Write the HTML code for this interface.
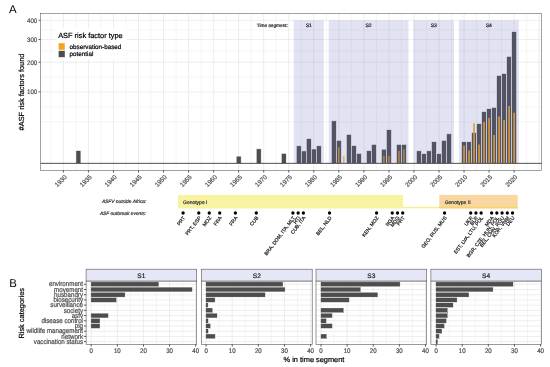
<!DOCTYPE html>
<html><head><meta charset="utf-8"><style>
html,body{margin:0;padding:0;background:#fff;width:550px;height:367px;overflow:hidden}
svg{display:block;will-change:transform}
text{text-rendering:geometricPrecision;font-family:'Liberation Sans', sans-serif}
</style></head><body>
<svg width="550" height="367" viewBox="0 0 550 367">
<rect x="0" y="0" width="550" height="367" fill="#fff"/>
<text x="9.0" y="12.95" font-size="11.4" fill="#000">A</text>
<rect x="40.5" y="13.4" width="501.1" height="156.9" fill="#fff"/>
<line x1="50.88" y1="13.4" x2="50.88" y2="170.3" stroke="#eaeaea" stroke-width="0.5"/>
<line x1="63.40" y1="13.4" x2="63.40" y2="170.3" stroke="#e5e5e5" stroke-width="0.7"/>
<line x1="75.92" y1="13.4" x2="75.92" y2="170.3" stroke="#eaeaea" stroke-width="0.5"/>
<line x1="88.44" y1="13.4" x2="88.44" y2="170.3" stroke="#e5e5e5" stroke-width="0.7"/>
<line x1="100.96" y1="13.4" x2="100.96" y2="170.3" stroke="#eaeaea" stroke-width="0.5"/>
<line x1="113.48" y1="13.4" x2="113.48" y2="170.3" stroke="#e5e5e5" stroke-width="0.7"/>
<line x1="126.00" y1="13.4" x2="126.00" y2="170.3" stroke="#eaeaea" stroke-width="0.5"/>
<line x1="138.52" y1="13.4" x2="138.52" y2="170.3" stroke="#e5e5e5" stroke-width="0.7"/>
<line x1="151.04" y1="13.4" x2="151.04" y2="170.3" stroke="#eaeaea" stroke-width="0.5"/>
<line x1="163.56" y1="13.4" x2="163.56" y2="170.3" stroke="#e5e5e5" stroke-width="0.7"/>
<line x1="176.08" y1="13.4" x2="176.08" y2="170.3" stroke="#eaeaea" stroke-width="0.5"/>
<line x1="188.60" y1="13.4" x2="188.60" y2="170.3" stroke="#e5e5e5" stroke-width="0.7"/>
<line x1="201.12" y1="13.4" x2="201.12" y2="170.3" stroke="#eaeaea" stroke-width="0.5"/>
<line x1="213.64" y1="13.4" x2="213.64" y2="170.3" stroke="#e5e5e5" stroke-width="0.7"/>
<line x1="226.16" y1="13.4" x2="226.16" y2="170.3" stroke="#eaeaea" stroke-width="0.5"/>
<line x1="238.68" y1="13.4" x2="238.68" y2="170.3" stroke="#e5e5e5" stroke-width="0.7"/>
<line x1="251.20" y1="13.4" x2="251.20" y2="170.3" stroke="#eaeaea" stroke-width="0.5"/>
<line x1="263.72" y1="13.4" x2="263.72" y2="170.3" stroke="#e5e5e5" stroke-width="0.7"/>
<line x1="276.24" y1="13.4" x2="276.24" y2="170.3" stroke="#eaeaea" stroke-width="0.5"/>
<line x1="288.76" y1="13.4" x2="288.76" y2="170.3" stroke="#e5e5e5" stroke-width="0.7"/>
<line x1="301.28" y1="13.4" x2="301.28" y2="170.3" stroke="#eaeaea" stroke-width="0.5"/>
<line x1="313.80" y1="13.4" x2="313.80" y2="170.3" stroke="#e5e5e5" stroke-width="0.7"/>
<line x1="326.32" y1="13.4" x2="326.32" y2="170.3" stroke="#eaeaea" stroke-width="0.5"/>
<line x1="338.84" y1="13.4" x2="338.84" y2="170.3" stroke="#e5e5e5" stroke-width="0.7"/>
<line x1="351.36" y1="13.4" x2="351.36" y2="170.3" stroke="#eaeaea" stroke-width="0.5"/>
<line x1="363.88" y1="13.4" x2="363.88" y2="170.3" stroke="#e5e5e5" stroke-width="0.7"/>
<line x1="376.40" y1="13.4" x2="376.40" y2="170.3" stroke="#eaeaea" stroke-width="0.5"/>
<line x1="388.92" y1="13.4" x2="388.92" y2="170.3" stroke="#e5e5e5" stroke-width="0.7"/>
<line x1="401.44" y1="13.4" x2="401.44" y2="170.3" stroke="#eaeaea" stroke-width="0.5"/>
<line x1="413.96" y1="13.4" x2="413.96" y2="170.3" stroke="#e5e5e5" stroke-width="0.7"/>
<line x1="426.48" y1="13.4" x2="426.48" y2="170.3" stroke="#eaeaea" stroke-width="0.5"/>
<line x1="439.00" y1="13.4" x2="439.00" y2="170.3" stroke="#e5e5e5" stroke-width="0.7"/>
<line x1="451.52" y1="13.4" x2="451.52" y2="170.3" stroke="#eaeaea" stroke-width="0.5"/>
<line x1="464.04" y1="13.4" x2="464.04" y2="170.3" stroke="#e5e5e5" stroke-width="0.7"/>
<line x1="476.56" y1="13.4" x2="476.56" y2="170.3" stroke="#eaeaea" stroke-width="0.5"/>
<line x1="489.08" y1="13.4" x2="489.08" y2="170.3" stroke="#e5e5e5" stroke-width="0.7"/>
<line x1="501.60" y1="13.4" x2="501.60" y2="170.3" stroke="#eaeaea" stroke-width="0.5"/>
<line x1="514.12" y1="13.4" x2="514.12" y2="170.3" stroke="#e5e5e5" stroke-width="0.7"/>
<line x1="526.64" y1="13.4" x2="526.64" y2="170.3" stroke="#eaeaea" stroke-width="0.5"/>
<line x1="539.16" y1="13.4" x2="539.16" y2="170.3" stroke="#e5e5e5" stroke-width="0.7"/>
<line x1="40.5" y1="91.85" x2="541.6" y2="91.85" stroke="#e5e5e5" stroke-width="0.7"/>
<line x1="40.5" y1="62.23" x2="541.6" y2="62.23" stroke="#e5e5e5" stroke-width="0.7"/>
<line x1="40.5" y1="39.51" x2="541.6" y2="39.51" stroke="#e5e5e5" stroke-width="0.7"/>
<line x1="40.5" y1="20.35" x2="541.6" y2="20.35" stroke="#e5e5e5" stroke-width="0.7"/>
<line x1="40.5" y1="30.00" x2="541.6" y2="30.00" stroke="#eaeaea" stroke-width="0.5"/>
<line x1="40.5" y1="50.80" x2="541.6" y2="50.80" stroke="#eaeaea" stroke-width="0.5"/>
<line x1="40.5" y1="77.00" x2="541.6" y2="77.00" stroke="#eaeaea" stroke-width="0.5"/>
<line x1="40.5" y1="106.90" x2="541.6" y2="106.90" stroke="#eaeaea" stroke-width="0.5"/>
<line x1="40.5" y1="121.80" x2="541.6" y2="121.80" stroke="#eaeaea" stroke-width="0.5"/>
<rect x="75.92" y="150.50" width="5.01" height="12.85" fill="#4d4d4d" stroke="#fff" stroke-width="0.6"/>
<rect x="236.18" y="156.10" width="5.01" height="7.25" fill="#4d4d4d" stroke="#fff" stroke-width="0.6"/>
<rect x="256.21" y="148.80" width="5.01" height="14.55" fill="#4d4d4d" stroke="#fff" stroke-width="0.6"/>
<rect x="281.25" y="153.30" width="5.01" height="10.05" fill="#4d4d4d" stroke="#fff" stroke-width="0.6"/>
<rect x="296.27" y="145.80" width="5.01" height="17.55" fill="#4d4d4d" stroke="#fff" stroke-width="0.6"/>
<rect x="301.28" y="150.90" width="5.01" height="12.45" fill="#4d4d4d" stroke="#fff" stroke-width="0.6"/>
<rect x="306.29" y="138.50" width="5.01" height="24.85" fill="#4d4d4d" stroke="#fff" stroke-width="0.6"/>
<rect x="311.30" y="149.00" width="5.01" height="14.35" fill="#4d4d4d" stroke="#fff" stroke-width="0.6"/>
<rect x="316.30" y="145.80" width="5.01" height="17.55" fill="#4d4d4d" stroke="#fff" stroke-width="0.6"/>
<rect x="331.33" y="120.80" width="5.01" height="42.55" fill="#4d4d4d" stroke="#fff" stroke-width="0.6"/>
<rect x="336.34" y="140.30" width="5.01" height="23.05" fill="#4d4d4d" stroke="#fff" stroke-width="0.6"/>
<rect x="346.35" y="134.40" width="5.01" height="28.95" fill="#4d4d4d" stroke="#fff" stroke-width="0.6"/>
<rect x="351.36" y="145.60" width="5.01" height="17.75" fill="#4d4d4d" stroke="#fff" stroke-width="0.6"/>
<rect x="356.37" y="153.40" width="5.01" height="9.95" fill="#4d4d4d" stroke="#fff" stroke-width="0.6"/>
<rect x="366.38" y="150.70" width="5.01" height="12.65" fill="#4d4d4d" stroke="#fff" stroke-width="0.6"/>
<rect x="371.39" y="144.40" width="5.01" height="18.95" fill="#4d4d4d" stroke="#fff" stroke-width="0.6"/>
<rect x="381.41" y="149.20" width="5.01" height="14.15" fill="#4d4d4d" stroke="#fff" stroke-width="0.6"/>
<rect x="386.42" y="129.70" width="5.01" height="33.65" fill="#4d4d4d" stroke="#fff" stroke-width="0.6"/>
<rect x="396.43" y="144.40" width="5.01" height="18.95" fill="#4d4d4d" stroke="#fff" stroke-width="0.6"/>
<rect x="401.44" y="144.40" width="5.01" height="18.95" fill="#4d4d4d" stroke="#fff" stroke-width="0.6"/>
<rect x="416.46" y="150.80" width="5.01" height="12.55" fill="#4d4d4d" stroke="#fff" stroke-width="0.6"/>
<rect x="421.47" y="153.60" width="5.01" height="9.75" fill="#4d4d4d" stroke="#fff" stroke-width="0.6"/>
<rect x="426.48" y="150.80" width="5.01" height="12.55" fill="#4d4d4d" stroke="#fff" stroke-width="0.6"/>
<rect x="431.49" y="141.70" width="5.01" height="21.65" fill="#4d4d4d" stroke="#fff" stroke-width="0.6"/>
<rect x="436.50" y="153.60" width="5.01" height="9.75" fill="#4d4d4d" stroke="#fff" stroke-width="0.6"/>
<rect x="441.50" y="140.30" width="5.01" height="23.05" fill="#4d4d4d" stroke="#fff" stroke-width="0.6"/>
<rect x="446.51" y="133.80" width="5.01" height="29.55" fill="#4d4d4d" stroke="#fff" stroke-width="0.6"/>
<rect x="461.54" y="141.70" width="5.01" height="21.65" fill="#4d4d4d" stroke="#fff" stroke-width="0.6"/>
<rect x="466.54" y="141.70" width="5.01" height="21.65" fill="#4d4d4d" stroke="#fff" stroke-width="0.6"/>
<rect x="471.55" y="132.50" width="5.01" height="30.85" fill="#4d4d4d" stroke="#fff" stroke-width="0.6"/>
<rect x="476.56" y="123.60" width="5.01" height="39.75" fill="#4d4d4d" stroke="#fff" stroke-width="0.6"/>
<rect x="481.57" y="111.60" width="5.01" height="51.75" fill="#4d4d4d" stroke="#fff" stroke-width="0.6"/>
<rect x="486.58" y="108.70" width="5.01" height="54.65" fill="#4d4d4d" stroke="#fff" stroke-width="0.6"/>
<rect x="491.58" y="107.40" width="5.01" height="55.95" fill="#4d4d4d" stroke="#fff" stroke-width="0.6"/>
<rect x="496.59" y="75.50" width="5.01" height="87.85" fill="#4d4d4d" stroke="#fff" stroke-width="0.6"/>
<rect x="501.60" y="73.60" width="5.01" height="89.75" fill="#4d4d4d" stroke="#fff" stroke-width="0.6"/>
<rect x="506.61" y="56.40" width="5.01" height="106.95" fill="#4d4d4d" stroke="#fff" stroke-width="0.6"/>
<rect x="511.62" y="31.60" width="5.01" height="131.75" fill="#4d4d4d" stroke="#fff" stroke-width="0.6"/>
<rect x="338.29" y="147.30" width="1.10" height="16.05" fill="#f5a31c"/>
<rect x="343.30" y="156.30" width="1.10" height="7.05" fill="#f5a31c"/>
<rect x="383.36" y="155.90" width="1.10" height="7.45" fill="#f5a31c"/>
<rect x="388.37" y="155.90" width="1.10" height="7.45" fill="#f5a31c"/>
<rect x="398.39" y="150.90" width="1.10" height="12.45" fill="#f5a31c"/>
<rect x="403.39" y="149.10" width="1.10" height="14.25" fill="#f5a31c"/>
<rect x="463.24" y="145.70" width="1.60" height="17.65" fill="#f5a31c"/>
<rect x="468.25" y="150.50" width="1.60" height="12.85" fill="#f5a31c"/>
<rect x="473.26" y="123.40" width="1.60" height="39.95" fill="#f5a31c"/>
<rect x="478.26" y="144.60" width="1.60" height="18.75" fill="#f5a31c"/>
<rect x="483.27" y="121.90" width="1.60" height="41.45" fill="#f5a31c"/>
<rect x="488.28" y="117.90" width="1.60" height="45.45" fill="#f5a31c"/>
<rect x="493.29" y="135.00" width="1.60" height="28.35" fill="#f5a31c"/>
<rect x="498.30" y="116.50" width="1.60" height="46.85" fill="#f5a31c"/>
<rect x="503.30" y="120.00" width="1.60" height="43.35" fill="#f5a31c"/>
<rect x="508.31" y="106.00" width="1.60" height="57.35" fill="#f5a31c"/>
<rect x="513.32" y="112.70" width="1.60" height="50.65" fill="#f5a31c"/>
<rect x="293.8" y="20.35" width="30.00" height="143.00" fill="#6e73be" fill-opacity="0.2"/>
<rect x="328.7" y="20.35" width="79.80" height="143.00" fill="#6e73be" fill-opacity="0.2"/>
<rect x="413.6" y="20.35" width="40.40" height="143.00" fill="#6e73be" fill-opacity="0.2"/>
<rect x="458.9" y="20.35" width="59.90" height="143.00" fill="#6e73be" fill-opacity="0.2"/>
<text x="288.0" y="26.9" font-size="4.75" fill="#1a1a1a" text-anchor="end" stroke="#1a1a1a" stroke-width="0.2">Time segment:</text>
<text x="308.8" y="26.9" font-size="5.0" fill="#1a1a1a" text-anchor="middle" stroke="#1a1a1a" stroke-width="0.2">S1</text>
<text x="368.6" y="26.9" font-size="5.0" fill="#1a1a1a" text-anchor="middle" stroke="#1a1a1a" stroke-width="0.2">S2</text>
<text x="433.8" y="26.9" font-size="5.0" fill="#1a1a1a" text-anchor="middle" stroke="#1a1a1a" stroke-width="0.2">S3</text>
<text x="488.8" y="26.9" font-size="5.0" fill="#1a1a1a" text-anchor="middle" stroke="#1a1a1a" stroke-width="0.2">S4</text>
<line x1="40.5" y1="163.35" x2="541.6" y2="163.35" stroke="#3a3a3a" stroke-width="0.9"/>
<rect x="40.5" y="13.4" width="501.1" height="156.9" fill="none" stroke="#555" stroke-width="0.55"/>
<line x1="38.5" y1="91.85" x2="40.5" y2="91.85" stroke="#333" stroke-width="0.8"/>
<text transform="translate(37.2,94.45) scale(1,1.08)" font-size="6.1" fill="#4d4d4d" text-anchor="end" stroke="#4d4d4d" stroke-width="0.2">100</text>
<line x1="38.5" y1="62.23" x2="40.5" y2="62.23" stroke="#333" stroke-width="0.8"/>
<text transform="translate(37.2,64.83) scale(1,1.08)" font-size="6.1" fill="#4d4d4d" text-anchor="end" stroke="#4d4d4d" stroke-width="0.2">200</text>
<line x1="38.5" y1="39.51" x2="40.5" y2="39.51" stroke="#333" stroke-width="0.8"/>
<text transform="translate(37.2,42.11) scale(1,1.08)" font-size="6.1" fill="#4d4d4d" text-anchor="end" stroke="#4d4d4d" stroke-width="0.2">300</text>
<line x1="38.5" y1="20.35" x2="40.5" y2="20.35" stroke="#333" stroke-width="0.8"/>
<text transform="translate(37.2,22.95) scale(1,1.08)" font-size="6.1" fill="#4d4d4d" text-anchor="end" stroke="#4d4d4d" stroke-width="0.2">400</text>
<text transform="translate(23.5,92.0) rotate(-90)" font-size="7.4" fill="#000" text-anchor="middle" stroke="#000" stroke-width="0.2">#ASF risk factors found</text>
<line x1="63.40" y1="170.3" x2="63.40" y2="172.6" stroke="#333" stroke-width="0.8"/>
<text transform="translate(64.30,174.6) rotate(-45)" font-size="6.3" fill="#4d4d4d" text-anchor="end" dominant-baseline="hanging" stroke="#4d4d4d" stroke-width="0.2">1930</text>
<line x1="88.44" y1="170.3" x2="88.44" y2="172.6" stroke="#333" stroke-width="0.8"/>
<text transform="translate(89.34,174.6) rotate(-45)" font-size="6.3" fill="#4d4d4d" text-anchor="end" dominant-baseline="hanging" stroke="#4d4d4d" stroke-width="0.2">1935</text>
<line x1="113.48" y1="170.3" x2="113.48" y2="172.6" stroke="#333" stroke-width="0.8"/>
<text transform="translate(114.38,174.6) rotate(-45)" font-size="6.3" fill="#4d4d4d" text-anchor="end" dominant-baseline="hanging" stroke="#4d4d4d" stroke-width="0.2">1940</text>
<line x1="138.52" y1="170.3" x2="138.52" y2="172.6" stroke="#333" stroke-width="0.8"/>
<text transform="translate(139.42,174.6) rotate(-45)" font-size="6.3" fill="#4d4d4d" text-anchor="end" dominant-baseline="hanging" stroke="#4d4d4d" stroke-width="0.2">1945</text>
<line x1="163.56" y1="170.3" x2="163.56" y2="172.6" stroke="#333" stroke-width="0.8"/>
<text transform="translate(164.46,174.6) rotate(-45)" font-size="6.3" fill="#4d4d4d" text-anchor="end" dominant-baseline="hanging" stroke="#4d4d4d" stroke-width="0.2">1950</text>
<line x1="188.60" y1="170.3" x2="188.60" y2="172.6" stroke="#333" stroke-width="0.8"/>
<text transform="translate(189.50,174.6) rotate(-45)" font-size="6.3" fill="#4d4d4d" text-anchor="end" dominant-baseline="hanging" stroke="#4d4d4d" stroke-width="0.2">1955</text>
<line x1="213.64" y1="170.3" x2="213.64" y2="172.6" stroke="#333" stroke-width="0.8"/>
<text transform="translate(214.54,174.6) rotate(-45)" font-size="6.3" fill="#4d4d4d" text-anchor="end" dominant-baseline="hanging" stroke="#4d4d4d" stroke-width="0.2">1960</text>
<line x1="238.68" y1="170.3" x2="238.68" y2="172.6" stroke="#333" stroke-width="0.8"/>
<text transform="translate(239.58,174.6) rotate(-45)" font-size="6.3" fill="#4d4d4d" text-anchor="end" dominant-baseline="hanging" stroke="#4d4d4d" stroke-width="0.2">1965</text>
<line x1="263.72" y1="170.3" x2="263.72" y2="172.6" stroke="#333" stroke-width="0.8"/>
<text transform="translate(264.62,174.6) rotate(-45)" font-size="6.3" fill="#4d4d4d" text-anchor="end" dominant-baseline="hanging" stroke="#4d4d4d" stroke-width="0.2">1970</text>
<line x1="288.76" y1="170.3" x2="288.76" y2="172.6" stroke="#333" stroke-width="0.8"/>
<text transform="translate(289.66,174.6) rotate(-45)" font-size="6.3" fill="#4d4d4d" text-anchor="end" dominant-baseline="hanging" stroke="#4d4d4d" stroke-width="0.2">1975</text>
<line x1="313.80" y1="170.3" x2="313.80" y2="172.6" stroke="#333" stroke-width="0.8"/>
<text transform="translate(314.70,174.6) rotate(-45)" font-size="6.3" fill="#4d4d4d" text-anchor="end" dominant-baseline="hanging" stroke="#4d4d4d" stroke-width="0.2">1980</text>
<line x1="338.84" y1="170.3" x2="338.84" y2="172.6" stroke="#333" stroke-width="0.8"/>
<text transform="translate(339.74,174.6) rotate(-45)" font-size="6.3" fill="#4d4d4d" text-anchor="end" dominant-baseline="hanging" stroke="#4d4d4d" stroke-width="0.2">1985</text>
<line x1="363.88" y1="170.3" x2="363.88" y2="172.6" stroke="#333" stroke-width="0.8"/>
<text transform="translate(364.78,174.6) rotate(-45)" font-size="6.3" fill="#4d4d4d" text-anchor="end" dominant-baseline="hanging" stroke="#4d4d4d" stroke-width="0.2">1990</text>
<line x1="388.92" y1="170.3" x2="388.92" y2="172.6" stroke="#333" stroke-width="0.8"/>
<text transform="translate(389.82,174.6) rotate(-45)" font-size="6.3" fill="#4d4d4d" text-anchor="end" dominant-baseline="hanging" stroke="#4d4d4d" stroke-width="0.2">1995</text>
<line x1="413.96" y1="170.3" x2="413.96" y2="172.6" stroke="#333" stroke-width="0.8"/>
<text transform="translate(414.86,174.6) rotate(-45)" font-size="6.3" fill="#4d4d4d" text-anchor="end" dominant-baseline="hanging" stroke="#4d4d4d" stroke-width="0.2">2000</text>
<line x1="439.00" y1="170.3" x2="439.00" y2="172.6" stroke="#333" stroke-width="0.8"/>
<text transform="translate(439.90,174.6) rotate(-45)" font-size="6.3" fill="#4d4d4d" text-anchor="end" dominant-baseline="hanging" stroke="#4d4d4d" stroke-width="0.2">2005</text>
<line x1="464.04" y1="170.3" x2="464.04" y2="172.6" stroke="#333" stroke-width="0.8"/>
<text transform="translate(464.94,174.6) rotate(-45)" font-size="6.3" fill="#4d4d4d" text-anchor="end" dominant-baseline="hanging" stroke="#4d4d4d" stroke-width="0.2">2010</text>
<line x1="489.08" y1="170.3" x2="489.08" y2="172.6" stroke="#333" stroke-width="0.8"/>
<text transform="translate(489.98,174.6) rotate(-45)" font-size="6.3" fill="#4d4d4d" text-anchor="end" dominant-baseline="hanging" stroke="#4d4d4d" stroke-width="0.2">2015</text>
<line x1="514.12" y1="170.3" x2="514.12" y2="172.6" stroke="#333" stroke-width="0.8"/>
<text transform="translate(515.02,174.6) rotate(-45)" font-size="6.3" fill="#4d4d4d" text-anchor="end" dominant-baseline="hanging" stroke="#4d4d4d" stroke-width="0.2">2020</text>
<rect x="55.4" y="28.0" width="71.1" height="31.8" fill="#fff"/>
<text x="58.2" y="38.3" font-size="7.4" fill="#000" stroke="#000" stroke-width="0.2">ASF risk factor type</text>
<rect x="58.4" y="43.0" width="6.6" height="7.0" fill="#f5a31c" stroke="#fff" stroke-width="0.4"/>
<rect x="58.4" y="50.7" width="6.6" height="6.6" fill="#4d4d4d" stroke="#fff" stroke-width="0.4"/>
<text x="69.5" y="48.7" font-size="6.3" fill="#000" stroke="#000" stroke-width="0.2">observation-based</text>
<text x="69.5" y="56.2" font-size="6.3" fill="#000" stroke="#000" stroke-width="0.2">potential</text>
<text x="146.4" y="203.3" font-size="4.85" font-style="italic" fill="#333" text-anchor="end" stroke="#333" stroke-width="0.2">ASFV outside Africa:</text>
<text x="146.4" y="214.6" font-size="4.85" font-style="italic" fill="#333" text-anchor="end" stroke="#333" stroke-width="0.2">ASF outbreak events:</text>
<rect x="177.9" y="194.9" width="225.1" height="13.6" fill="#f8f3a0"/>
<rect x="403.0" y="206.8" width="36.3" height="1.5" fill="#f7ef92"/>
<rect x="439.3" y="194.9" width="78.4" height="13.6" fill="#fad7a0"/>
<rect x="439.3" y="206.8" width="78.4" height="1.4" fill="#f6d466"/>
<text x="183.0" y="203.6" font-size="5.0" fill="#333" stroke="#333" stroke-width="0.2">Genotype I</text>
<text x="444.7" y="203.6" font-size="5.0" fill="#333" stroke="#333" stroke-width="0.2">Genotype II</text>
<circle cx="183.10" cy="213.0" r="1.65" fill="#000"/>
<text transform="translate(182.90,216.0) rotate(-53)" font-size="5.0" fill="#1a1a1a" text-anchor="end" dominant-baseline="hanging" stroke="#1a1a1a" stroke-width="0.2">PRT</text>
<circle cx="198.79" cy="213.0" r="1.65" fill="#000"/>
<text transform="translate(198.59,216.0) rotate(-53)" font-size="5.0" fill="#1a1a1a" text-anchor="end" dominant-baseline="hanging" stroke="#1a1a1a" stroke-width="0.2">PRT, ESP</text>
<circle cx="209.25" cy="213.0" r="1.65" fill="#000"/>
<text transform="translate(209.05,216.0) rotate(-53)" font-size="5.0" fill="#1a1a1a" text-anchor="end" dominant-baseline="hanging" stroke="#1a1a1a" stroke-width="0.2">MOZ</text>
<circle cx="219.70" cy="213.0" r="1.65" fill="#000"/>
<text transform="translate(219.50,216.0) rotate(-53)" font-size="5.0" fill="#1a1a1a" text-anchor="end" dominant-baseline="hanging" stroke="#1a1a1a" stroke-width="0.2">FRA</text>
<circle cx="235.39" cy="213.0" r="1.65" fill="#000"/>
<text transform="translate(235.19,216.0) rotate(-53)" font-size="5.0" fill="#1a1a1a" text-anchor="end" dominant-baseline="hanging" stroke="#1a1a1a" stroke-width="0.2">FRA</text>
<circle cx="256.31" cy="213.0" r="1.65" fill="#000"/>
<text transform="translate(256.11,216.0) rotate(-53)" font-size="5.0" fill="#1a1a1a" text-anchor="end" dominant-baseline="hanging" stroke="#1a1a1a" stroke-width="0.2">CUB</text>
<circle cx="292.91" cy="213.0" r="1.65" fill="#000"/>
<text transform="translate(292.71,216.0) rotate(-53)" font-size="5.0" fill="#1a1a1a" text-anchor="end" dominant-baseline="hanging" stroke="#1a1a1a" stroke-width="0.2">BRA, DOM, ITA, MLT</text>
<circle cx="298.14" cy="213.0" r="1.65" fill="#000"/>
<text transform="translate(297.94,216.0) rotate(-53)" font-size="5.0" fill="#1a1a1a" text-anchor="end" dominant-baseline="hanging" stroke="#1a1a1a" stroke-width="0.2">HTI</text>
<circle cx="303.37" cy="213.0" r="1.65" fill="#000"/>
<text transform="translate(303.17,216.0) rotate(-53)" font-size="5.0" fill="#1a1a1a" text-anchor="end" dominant-baseline="hanging" stroke="#1a1a1a" stroke-width="0.2">CUB, ITA</text>
<circle cx="329.51" cy="213.0" r="1.65" fill="#000"/>
<text transform="translate(329.31,216.0) rotate(-53)" font-size="5.0" fill="#1a1a1a" text-anchor="end" dominant-baseline="hanging" stroke="#1a1a1a" stroke-width="0.2">BEL, NLD</text>
<circle cx="376.57" cy="213.0" r="1.65" fill="#000"/>
<text transform="translate(376.37,216.0) rotate(-53)" font-size="5.0" fill="#1a1a1a" text-anchor="end" dominant-baseline="hanging" stroke="#1a1a1a" stroke-width="0.2">KEN, MOZ</text>
<circle cx="392.26" cy="213.0" r="1.65" fill="#000"/>
<text transform="translate(392.06,216.0) rotate(-53)" font-size="5.0" fill="#1a1a1a" text-anchor="end" dominant-baseline="hanging" stroke="#1a1a1a" stroke-width="0.2">NGA</text>
<circle cx="397.49" cy="213.0" r="1.65" fill="#000"/>
<text transform="translate(397.29,216.0) rotate(-53)" font-size="5.0" fill="#1a1a1a" text-anchor="end" dominant-baseline="hanging" stroke="#1a1a1a" stroke-width="0.2">MDG</text>
<circle cx="402.72" cy="213.0" r="1.65" fill="#000"/>
<text transform="translate(402.52,216.0) rotate(-53)" font-size="5.0" fill="#1a1a1a" text-anchor="end" dominant-baseline="hanging" stroke="#1a1a1a" stroke-width="0.2">PRT</text>
<circle cx="444.55" cy="213.0" r="1.65" fill="#000"/>
<text transform="translate(444.35,216.0) rotate(-53)" font-size="5.0" fill="#1a1a1a" text-anchor="end" dominant-baseline="hanging" stroke="#1a1a1a" stroke-width="0.2">GEO, RUS, MUS</text>
<circle cx="470.70" cy="213.0" r="1.65" fill="#000"/>
<text transform="translate(470.50,216.0) rotate(-53)" font-size="5.0" fill="#1a1a1a" text-anchor="end" dominant-baseline="hanging" stroke="#1a1a1a" stroke-width="0.2">UKR</text>
<circle cx="475.92" cy="213.0" r="1.65" fill="#000"/>
<text transform="translate(475.72,216.0) rotate(-53)" font-size="5.0" fill="#1a1a1a" text-anchor="end" dominant-baseline="hanging" stroke="#1a1a1a" stroke-width="0.2">BLR</text>
<circle cx="481.15" cy="213.0" r="1.65" fill="#000"/>
<text transform="translate(480.95,216.0) rotate(-53)" font-size="5.0" fill="#1a1a1a" text-anchor="end" dominant-baseline="hanging" stroke="#1a1a1a" stroke-width="0.2">EST, LVA, LTU, POL</text>
<circle cx="491.61" cy="213.0" r="1.65" fill="#000"/>
<text transform="translate(491.41,216.0) rotate(-53)" font-size="5.0" fill="#1a1a1a" text-anchor="end" dominant-baseline="hanging" stroke="#1a1a1a" stroke-width="0.2">MDA</text>
<circle cx="496.84" cy="213.0" r="1.65" fill="#000"/>
<text transform="translate(496.64,216.0) rotate(-53)" font-size="5.0" fill="#1a1a1a" text-anchor="end" dominant-baseline="hanging" stroke="#1a1a1a" stroke-width="0.2">BGR, CZE, HUN, POL</text>
<circle cx="502.07" cy="213.0" r="1.65" fill="#000"/>
<text transform="translate(501.87,216.0) rotate(-53)" font-size="5.0" fill="#1a1a1a" text-anchor="end" dominant-baseline="hanging" stroke="#1a1a1a" stroke-width="0.2">BEL, CHN, ROU</text>
<circle cx="507.30" cy="213.0" r="1.65" fill="#000"/>
<text transform="translate(507.10,216.0) rotate(-53)" font-size="5.0" fill="#1a1a1a" text-anchor="end" dominant-baseline="hanging" stroke="#1a1a1a" stroke-width="0.2">KOR, VNM</text>
<circle cx="512.53" cy="213.0" r="1.65" fill="#000"/>
<text transform="translate(512.33,216.0) rotate(-53)" font-size="5.0" fill="#1a1a1a" text-anchor="end" dominant-baseline="hanging" stroke="#1a1a1a" stroke-width="0.2">DEU</text>
<text x="9.2" y="287.3" font-size="11.4" fill="#000">B</text>
<rect x="86.1" y="281.0" width="110.6" height="63.3" fill="#fff"/>
<line x1="104.26" y1="281.0" x2="104.26" y2="344.3" stroke="#eaeaea" stroke-width="0.5"/>
<line x1="130.38" y1="281.0" x2="130.38" y2="344.3" stroke="#eaeaea" stroke-width="0.5"/>
<line x1="156.50" y1="281.0" x2="156.50" y2="344.3" stroke="#eaeaea" stroke-width="0.5"/>
<line x1="182.62" y1="281.0" x2="182.62" y2="344.3" stroke="#eaeaea" stroke-width="0.5"/>
<line x1="91.20" y1="281.0" x2="91.20" y2="344.3" stroke="#e5e5e5" stroke-width="0.7"/>
<line x1="117.32" y1="281.0" x2="117.32" y2="344.3" stroke="#e5e5e5" stroke-width="0.7"/>
<line x1="143.44" y1="281.0" x2="143.44" y2="344.3" stroke="#e5e5e5" stroke-width="0.7"/>
<line x1="169.56" y1="281.0" x2="169.56" y2="344.3" stroke="#e5e5e5" stroke-width="0.7"/>
<line x1="195.68" y1="281.0" x2="195.68" y2="344.3" stroke="#e5e5e5" stroke-width="0.7"/>
<line x1="86.1" y1="284.30" x2="196.7" y2="284.30" stroke="#e5e5e5" stroke-width="0.7"/>
<line x1="86.1" y1="289.51" x2="196.7" y2="289.51" stroke="#e5e5e5" stroke-width="0.7"/>
<line x1="86.1" y1="294.72" x2="196.7" y2="294.72" stroke="#e5e5e5" stroke-width="0.7"/>
<line x1="86.1" y1="299.93" x2="196.7" y2="299.93" stroke="#e5e5e5" stroke-width="0.7"/>
<line x1="86.1" y1="305.14" x2="196.7" y2="305.14" stroke="#e5e5e5" stroke-width="0.7"/>
<line x1="86.1" y1="310.35" x2="196.7" y2="310.35" stroke="#e5e5e5" stroke-width="0.7"/>
<line x1="86.1" y1="315.56" x2="196.7" y2="315.56" stroke="#e5e5e5" stroke-width="0.7"/>
<line x1="86.1" y1="320.77" x2="196.7" y2="320.77" stroke="#e5e5e5" stroke-width="0.7"/>
<line x1="86.1" y1="325.98" x2="196.7" y2="325.98" stroke="#e5e5e5" stroke-width="0.7"/>
<line x1="86.1" y1="331.19" x2="196.7" y2="331.19" stroke="#e5e5e5" stroke-width="0.7"/>
<line x1="86.1" y1="336.40" x2="196.7" y2="336.40" stroke="#e5e5e5" stroke-width="0.7"/>
<line x1="86.1" y1="341.61" x2="196.7" y2="341.61" stroke="#e5e5e5" stroke-width="0.7"/>
<rect x="90.90" y="281.90" width="68.00" height="4.79" fill="#4d4d4d" stroke="#fff" stroke-width="0.35"/>
<rect x="90.90" y="287.11" width="101.40" height="4.79" fill="#4d4d4d" stroke="#fff" stroke-width="0.35"/>
<rect x="90.90" y="292.32" width="34.20" height="4.79" fill="#4d4d4d" stroke="#fff" stroke-width="0.35"/>
<rect x="90.90" y="297.53" width="25.70" height="4.79" fill="#4d4d4d" stroke="#fff" stroke-width="0.35"/>
<rect x="90.90" y="313.16" width="17.40" height="4.79" fill="#4d4d4d" stroke="#fff" stroke-width="0.35"/>
<rect x="90.90" y="318.37" width="9.10" height="4.79" fill="#4d4d4d" stroke="#fff" stroke-width="0.35"/>
<rect x="90.90" y="323.58" width="9.10" height="4.79" fill="#4d4d4d" stroke="#fff" stroke-width="0.35"/>
<rect x="86.1" y="281.0" width="110.6" height="63.3" fill="none" stroke="#555" stroke-width="0.6"/>
<rect x="86.1" y="269.2" width="110.6" height="11.8" fill="#e5e7f6" stroke="#555" stroke-width="0.6"/>
<text x="141.40" y="277.60" font-size="6.6" fill="#1a1a1a" text-anchor="middle" stroke="#1a1a1a" stroke-width="0.2">S1</text>
<line x1="91.20" y1="344.3" x2="91.20" y2="346.6" stroke="#333" stroke-width="0.8"/>
<text transform="translate(91.20,353.3) scale(1,1.1)" font-size="6.1" fill="#4d4d4d" text-anchor="middle" stroke="#4d4d4d" stroke-width="0.2">0</text>
<line x1="117.32" y1="344.3" x2="117.32" y2="346.6" stroke="#333" stroke-width="0.8"/>
<text transform="translate(117.32,353.3) scale(1,1.1)" font-size="6.1" fill="#4d4d4d" text-anchor="middle" stroke="#4d4d4d" stroke-width="0.2">10</text>
<line x1="143.44" y1="344.3" x2="143.44" y2="346.6" stroke="#333" stroke-width="0.8"/>
<text transform="translate(143.44,353.3) scale(1,1.1)" font-size="6.1" fill="#4d4d4d" text-anchor="middle" stroke="#4d4d4d" stroke-width="0.2">20</text>
<line x1="169.56" y1="344.3" x2="169.56" y2="346.6" stroke="#333" stroke-width="0.8"/>
<text transform="translate(169.56,353.3) scale(1,1.1)" font-size="6.1" fill="#4d4d4d" text-anchor="middle" stroke="#4d4d4d" stroke-width="0.2">30</text>
<line x1="195.68" y1="344.3" x2="195.68" y2="346.6" stroke="#333" stroke-width="0.8"/>
<text transform="translate(195.68,353.3) scale(1,1.1)" font-size="6.1" fill="#4d4d4d" text-anchor="middle" stroke="#4d4d4d" stroke-width="0.2">40</text>
<rect x="201.4" y="281.0" width="110.8" height="63.3" fill="#fff"/>
<line x1="219.16" y1="281.0" x2="219.16" y2="344.3" stroke="#eaeaea" stroke-width="0.5"/>
<line x1="245.28" y1="281.0" x2="245.28" y2="344.3" stroke="#eaeaea" stroke-width="0.5"/>
<line x1="271.40" y1="281.0" x2="271.40" y2="344.3" stroke="#eaeaea" stroke-width="0.5"/>
<line x1="297.52" y1="281.0" x2="297.52" y2="344.3" stroke="#eaeaea" stroke-width="0.5"/>
<line x1="206.10" y1="281.0" x2="206.10" y2="344.3" stroke="#e5e5e5" stroke-width="0.7"/>
<line x1="232.22" y1="281.0" x2="232.22" y2="344.3" stroke="#e5e5e5" stroke-width="0.7"/>
<line x1="258.34" y1="281.0" x2="258.34" y2="344.3" stroke="#e5e5e5" stroke-width="0.7"/>
<line x1="284.46" y1="281.0" x2="284.46" y2="344.3" stroke="#e5e5e5" stroke-width="0.7"/>
<line x1="310.58" y1="281.0" x2="310.58" y2="344.3" stroke="#e5e5e5" stroke-width="0.7"/>
<line x1="201.4" y1="284.30" x2="312.2" y2="284.30" stroke="#e5e5e5" stroke-width="0.7"/>
<line x1="201.4" y1="289.51" x2="312.2" y2="289.51" stroke="#e5e5e5" stroke-width="0.7"/>
<line x1="201.4" y1="294.72" x2="312.2" y2="294.72" stroke="#e5e5e5" stroke-width="0.7"/>
<line x1="201.4" y1="299.93" x2="312.2" y2="299.93" stroke="#e5e5e5" stroke-width="0.7"/>
<line x1="201.4" y1="305.14" x2="312.2" y2="305.14" stroke="#e5e5e5" stroke-width="0.7"/>
<line x1="201.4" y1="310.35" x2="312.2" y2="310.35" stroke="#e5e5e5" stroke-width="0.7"/>
<line x1="201.4" y1="315.56" x2="312.2" y2="315.56" stroke="#e5e5e5" stroke-width="0.7"/>
<line x1="201.4" y1="320.77" x2="312.2" y2="320.77" stroke="#e5e5e5" stroke-width="0.7"/>
<line x1="201.4" y1="325.98" x2="312.2" y2="325.98" stroke="#e5e5e5" stroke-width="0.7"/>
<line x1="201.4" y1="331.19" x2="312.2" y2="331.19" stroke="#e5e5e5" stroke-width="0.7"/>
<line x1="201.4" y1="336.40" x2="312.2" y2="336.40" stroke="#e5e5e5" stroke-width="0.7"/>
<line x1="201.4" y1="341.61" x2="312.2" y2="341.61" stroke="#e5e5e5" stroke-width="0.7"/>
<rect x="205.80" y="281.90" width="77.20" height="4.79" fill="#4d4d4d" stroke="#fff" stroke-width="0.35"/>
<rect x="205.80" y="287.11" width="79.30" height="4.79" fill="#4d4d4d" stroke="#fff" stroke-width="0.35"/>
<rect x="205.80" y="292.32" width="59.50" height="4.79" fill="#4d4d4d" stroke="#fff" stroke-width="0.35"/>
<rect x="205.80" y="297.53" width="9.30" height="4.79" fill="#4d4d4d" stroke="#fff" stroke-width="0.35"/>
<rect x="205.80" y="302.74" width="2.30" height="4.79" fill="#4d4d4d" stroke="#fff" stroke-width="0.35"/>
<rect x="205.80" y="307.95" width="6.90" height="4.79" fill="#4d4d4d" stroke="#fff" stroke-width="0.35"/>
<rect x="205.80" y="313.16" width="11.40" height="4.79" fill="#4d4d4d" stroke="#fff" stroke-width="0.35"/>
<rect x="205.80" y="318.37" width="2.50" height="4.79" fill="#4d4d4d" stroke="#fff" stroke-width="0.35"/>
<rect x="205.80" y="323.58" width="4.80" height="4.79" fill="#4d4d4d" stroke="#fff" stroke-width="0.35"/>
<rect x="205.80" y="328.79" width="2.50" height="4.79" fill="#4d4d4d" stroke="#fff" stroke-width="0.35"/>
<rect x="205.80" y="334.00" width="9.40" height="4.79" fill="#4d4d4d" stroke="#fff" stroke-width="0.35"/>
<rect x="201.4" y="281.0" width="110.8" height="63.3" fill="none" stroke="#555" stroke-width="0.6"/>
<rect x="201.4" y="269.2" width="110.8" height="11.8" fill="#e5e7f6" stroke="#555" stroke-width="0.6"/>
<text x="256.80" y="277.60" font-size="6.6" fill="#1a1a1a" text-anchor="middle" stroke="#1a1a1a" stroke-width="0.2">S2</text>
<line x1="206.10" y1="344.3" x2="206.10" y2="346.6" stroke="#333" stroke-width="0.8"/>
<text transform="translate(206.10,353.3) scale(1,1.1)" font-size="6.1" fill="#4d4d4d" text-anchor="middle" stroke="#4d4d4d" stroke-width="0.2">0</text>
<line x1="232.22" y1="344.3" x2="232.22" y2="346.6" stroke="#333" stroke-width="0.8"/>
<text transform="translate(232.22,353.3) scale(1,1.1)" font-size="6.1" fill="#4d4d4d" text-anchor="middle" stroke="#4d4d4d" stroke-width="0.2">10</text>
<line x1="258.34" y1="344.3" x2="258.34" y2="346.6" stroke="#333" stroke-width="0.8"/>
<text transform="translate(258.34,353.3) scale(1,1.1)" font-size="6.1" fill="#4d4d4d" text-anchor="middle" stroke="#4d4d4d" stroke-width="0.2">20</text>
<line x1="284.46" y1="344.3" x2="284.46" y2="346.6" stroke="#333" stroke-width="0.8"/>
<text transform="translate(284.46,353.3) scale(1,1.1)" font-size="6.1" fill="#4d4d4d" text-anchor="middle" stroke="#4d4d4d" stroke-width="0.2">30</text>
<line x1="310.58" y1="344.3" x2="310.58" y2="346.6" stroke="#333" stroke-width="0.8"/>
<text transform="translate(310.58,353.3) scale(1,1.1)" font-size="6.1" fill="#4d4d4d" text-anchor="middle" stroke="#4d4d4d" stroke-width="0.2">40</text>
<rect x="316.0" y="281.0" width="110.7" height="63.3" fill="#fff"/>
<line x1="334.06" y1="281.0" x2="334.06" y2="344.3" stroke="#eaeaea" stroke-width="0.5"/>
<line x1="360.18" y1="281.0" x2="360.18" y2="344.3" stroke="#eaeaea" stroke-width="0.5"/>
<line x1="386.30" y1="281.0" x2="386.30" y2="344.3" stroke="#eaeaea" stroke-width="0.5"/>
<line x1="412.42" y1="281.0" x2="412.42" y2="344.3" stroke="#eaeaea" stroke-width="0.5"/>
<line x1="321.00" y1="281.0" x2="321.00" y2="344.3" stroke="#e5e5e5" stroke-width="0.7"/>
<line x1="347.12" y1="281.0" x2="347.12" y2="344.3" stroke="#e5e5e5" stroke-width="0.7"/>
<line x1="373.24" y1="281.0" x2="373.24" y2="344.3" stroke="#e5e5e5" stroke-width="0.7"/>
<line x1="399.36" y1="281.0" x2="399.36" y2="344.3" stroke="#e5e5e5" stroke-width="0.7"/>
<line x1="425.48" y1="281.0" x2="425.48" y2="344.3" stroke="#e5e5e5" stroke-width="0.7"/>
<line x1="316.0" y1="284.30" x2="426.7" y2="284.30" stroke="#e5e5e5" stroke-width="0.7"/>
<line x1="316.0" y1="289.51" x2="426.7" y2="289.51" stroke="#e5e5e5" stroke-width="0.7"/>
<line x1="316.0" y1="294.72" x2="426.7" y2="294.72" stroke="#e5e5e5" stroke-width="0.7"/>
<line x1="316.0" y1="299.93" x2="426.7" y2="299.93" stroke="#e5e5e5" stroke-width="0.7"/>
<line x1="316.0" y1="305.14" x2="426.7" y2="305.14" stroke="#e5e5e5" stroke-width="0.7"/>
<line x1="316.0" y1="310.35" x2="426.7" y2="310.35" stroke="#e5e5e5" stroke-width="0.7"/>
<line x1="316.0" y1="315.56" x2="426.7" y2="315.56" stroke="#e5e5e5" stroke-width="0.7"/>
<line x1="316.0" y1="320.77" x2="426.7" y2="320.77" stroke="#e5e5e5" stroke-width="0.7"/>
<line x1="316.0" y1="325.98" x2="426.7" y2="325.98" stroke="#e5e5e5" stroke-width="0.7"/>
<line x1="316.0" y1="331.19" x2="426.7" y2="331.19" stroke="#e5e5e5" stroke-width="0.7"/>
<line x1="316.0" y1="336.40" x2="426.7" y2="336.40" stroke="#e5e5e5" stroke-width="0.7"/>
<line x1="316.0" y1="341.61" x2="426.7" y2="341.61" stroke="#e5e5e5" stroke-width="0.7"/>
<rect x="320.70" y="281.90" width="79.40" height="4.79" fill="#4d4d4d" stroke="#fff" stroke-width="0.35"/>
<rect x="320.70" y="287.11" width="40.10" height="4.79" fill="#4d4d4d" stroke="#fff" stroke-width="0.35"/>
<rect x="320.70" y="292.32" width="57.20" height="4.79" fill="#4d4d4d" stroke="#fff" stroke-width="0.35"/>
<rect x="320.70" y="297.53" width="28.60" height="4.79" fill="#4d4d4d" stroke="#fff" stroke-width="0.35"/>
<rect x="320.70" y="307.95" width="23.10" height="4.79" fill="#4d4d4d" stroke="#fff" stroke-width="0.35"/>
<rect x="320.70" y="313.16" width="11.60" height="4.79" fill="#4d4d4d" stroke="#fff" stroke-width="0.35"/>
<rect x="320.70" y="318.37" width="5.70" height="4.79" fill="#4d4d4d" stroke="#fff" stroke-width="0.35"/>
<rect x="320.70" y="323.58" width="11.60" height="4.79" fill="#4d4d4d" stroke="#fff" stroke-width="0.35"/>
<rect x="320.70" y="334.00" width="6.10" height="4.79" fill="#4d4d4d" stroke="#fff" stroke-width="0.35"/>
<rect x="316.0" y="281.0" width="110.7" height="63.3" fill="none" stroke="#555" stroke-width="0.6"/>
<rect x="316.0" y="269.2" width="110.7" height="11.8" fill="#e5e7f6" stroke="#555" stroke-width="0.6"/>
<text x="371.35" y="277.60" font-size="6.6" fill="#1a1a1a" text-anchor="middle" stroke="#1a1a1a" stroke-width="0.2">S3</text>
<line x1="321.00" y1="344.3" x2="321.00" y2="346.6" stroke="#333" stroke-width="0.8"/>
<text transform="translate(321.00,353.3) scale(1,1.1)" font-size="6.1" fill="#4d4d4d" text-anchor="middle" stroke="#4d4d4d" stroke-width="0.2">0</text>
<line x1="347.12" y1="344.3" x2="347.12" y2="346.6" stroke="#333" stroke-width="0.8"/>
<text transform="translate(347.12,353.3) scale(1,1.1)" font-size="6.1" fill="#4d4d4d" text-anchor="middle" stroke="#4d4d4d" stroke-width="0.2">10</text>
<line x1="373.24" y1="344.3" x2="373.24" y2="346.6" stroke="#333" stroke-width="0.8"/>
<text transform="translate(373.24,353.3) scale(1,1.1)" font-size="6.1" fill="#4d4d4d" text-anchor="middle" stroke="#4d4d4d" stroke-width="0.2">20</text>
<line x1="399.36" y1="344.3" x2="399.36" y2="346.6" stroke="#333" stroke-width="0.8"/>
<text transform="translate(399.36,353.3) scale(1,1.1)" font-size="6.1" fill="#4d4d4d" text-anchor="middle" stroke="#4d4d4d" stroke-width="0.2">30</text>
<line x1="425.48" y1="344.3" x2="425.48" y2="346.6" stroke="#333" stroke-width="0.8"/>
<text transform="translate(425.48,353.3) scale(1,1.1)" font-size="6.1" fill="#4d4d4d" text-anchor="middle" stroke="#4d4d4d" stroke-width="0.2">40</text>
<rect x="430.9" y="281.0" width="110.5" height="63.3" fill="#fff"/>
<line x1="449.16" y1="281.0" x2="449.16" y2="344.3" stroke="#eaeaea" stroke-width="0.5"/>
<line x1="475.28" y1="281.0" x2="475.28" y2="344.3" stroke="#eaeaea" stroke-width="0.5"/>
<line x1="501.40" y1="281.0" x2="501.40" y2="344.3" stroke="#eaeaea" stroke-width="0.5"/>
<line x1="527.52" y1="281.0" x2="527.52" y2="344.3" stroke="#eaeaea" stroke-width="0.5"/>
<line x1="436.10" y1="281.0" x2="436.10" y2="344.3" stroke="#e5e5e5" stroke-width="0.7"/>
<line x1="462.22" y1="281.0" x2="462.22" y2="344.3" stroke="#e5e5e5" stroke-width="0.7"/>
<line x1="488.34" y1="281.0" x2="488.34" y2="344.3" stroke="#e5e5e5" stroke-width="0.7"/>
<line x1="514.46" y1="281.0" x2="514.46" y2="344.3" stroke="#e5e5e5" stroke-width="0.7"/>
<line x1="540.58" y1="281.0" x2="540.58" y2="344.3" stroke="#e5e5e5" stroke-width="0.7"/>
<line x1="430.9" y1="284.30" x2="541.4" y2="284.30" stroke="#e5e5e5" stroke-width="0.7"/>
<line x1="430.9" y1="289.51" x2="541.4" y2="289.51" stroke="#e5e5e5" stroke-width="0.7"/>
<line x1="430.9" y1="294.72" x2="541.4" y2="294.72" stroke="#e5e5e5" stroke-width="0.7"/>
<line x1="430.9" y1="299.93" x2="541.4" y2="299.93" stroke="#e5e5e5" stroke-width="0.7"/>
<line x1="430.9" y1="305.14" x2="541.4" y2="305.14" stroke="#e5e5e5" stroke-width="0.7"/>
<line x1="430.9" y1="310.35" x2="541.4" y2="310.35" stroke="#e5e5e5" stroke-width="0.7"/>
<line x1="430.9" y1="315.56" x2="541.4" y2="315.56" stroke="#e5e5e5" stroke-width="0.7"/>
<line x1="430.9" y1="320.77" x2="541.4" y2="320.77" stroke="#e5e5e5" stroke-width="0.7"/>
<line x1="430.9" y1="325.98" x2="541.4" y2="325.98" stroke="#e5e5e5" stroke-width="0.7"/>
<line x1="430.9" y1="331.19" x2="541.4" y2="331.19" stroke="#e5e5e5" stroke-width="0.7"/>
<line x1="430.9" y1="336.40" x2="541.4" y2="336.40" stroke="#e5e5e5" stroke-width="0.7"/>
<line x1="430.9" y1="341.61" x2="541.4" y2="341.61" stroke="#e5e5e5" stroke-width="0.7"/>
<rect x="435.80" y="281.90" width="77.40" height="4.79" fill="#4d4d4d" stroke="#fff" stroke-width="0.35"/>
<rect x="435.80" y="287.11" width="57.30" height="4.79" fill="#4d4d4d" stroke="#fff" stroke-width="0.35"/>
<rect x="435.80" y="292.32" width="33.20" height="4.79" fill="#4d4d4d" stroke="#fff" stroke-width="0.35"/>
<rect x="435.80" y="297.53" width="21.30" height="4.79" fill="#4d4d4d" stroke="#fff" stroke-width="0.35"/>
<rect x="435.80" y="302.74" width="17.40" height="4.79" fill="#4d4d4d" stroke="#fff" stroke-width="0.35"/>
<rect x="435.80" y="307.95" width="12.00" height="4.79" fill="#4d4d4d" stroke="#fff" stroke-width="0.35"/>
<rect x="435.80" y="313.16" width="12.00" height="4.79" fill="#4d4d4d" stroke="#fff" stroke-width="0.35"/>
<rect x="435.80" y="318.37" width="10.70" height="4.79" fill="#4d4d4d" stroke="#fff" stroke-width="0.35"/>
<rect x="435.80" y="323.58" width="8.70" height="4.79" fill="#4d4d4d" stroke="#fff" stroke-width="0.35"/>
<rect x="435.80" y="328.79" width="6.20" height="4.79" fill="#4d4d4d" stroke="#fff" stroke-width="0.35"/>
<rect x="435.80" y="334.00" width="3.50" height="4.79" fill="#4d4d4d" stroke="#fff" stroke-width="0.35"/>
<rect x="435.80" y="339.21" width="2.10" height="4.79" fill="#4d4d4d" stroke="#fff" stroke-width="0.35"/>
<rect x="430.9" y="281.0" width="110.5" height="63.3" fill="none" stroke="#555" stroke-width="0.6"/>
<rect x="430.9" y="269.2" width="110.5" height="11.8" fill="#e5e7f6" stroke="#555" stroke-width="0.6"/>
<text x="486.15" y="277.60" font-size="6.6" fill="#1a1a1a" text-anchor="middle" stroke="#1a1a1a" stroke-width="0.2">S4</text>
<line x1="436.10" y1="344.3" x2="436.10" y2="346.6" stroke="#333" stroke-width="0.8"/>
<text transform="translate(436.10,353.3) scale(1,1.1)" font-size="6.1" fill="#4d4d4d" text-anchor="middle" stroke="#4d4d4d" stroke-width="0.2">0</text>
<line x1="462.22" y1="344.3" x2="462.22" y2="346.6" stroke="#333" stroke-width="0.8"/>
<text transform="translate(462.22,353.3) scale(1,1.1)" font-size="6.1" fill="#4d4d4d" text-anchor="middle" stroke="#4d4d4d" stroke-width="0.2">10</text>
<line x1="488.34" y1="344.3" x2="488.34" y2="346.6" stroke="#333" stroke-width="0.8"/>
<text transform="translate(488.34,353.3) scale(1,1.1)" font-size="6.1" fill="#4d4d4d" text-anchor="middle" stroke="#4d4d4d" stroke-width="0.2">20</text>
<line x1="514.46" y1="344.3" x2="514.46" y2="346.6" stroke="#333" stroke-width="0.8"/>
<text transform="translate(514.46,353.3) scale(1,1.1)" font-size="6.1" fill="#4d4d4d" text-anchor="middle" stroke="#4d4d4d" stroke-width="0.2">30</text>
<line x1="540.58" y1="344.3" x2="540.58" y2="346.6" stroke="#333" stroke-width="0.8"/>
<text transform="translate(540.58,353.3) scale(1,1.1)" font-size="6.1" fill="#4d4d4d" text-anchor="middle" stroke="#4d4d4d" stroke-width="0.2">40</text>
<line x1="83.9" y1="284.30" x2="86.1" y2="284.30" stroke="#333" stroke-width="0.8"/>
<text transform="translate(83.0,286.45) scale(1,1.14)" font-size="6.2" fill="#4d4d4d" text-anchor="end" stroke="#4d4d4d" stroke-width="0.2">environment</text>
<line x1="83.9" y1="289.51" x2="86.1" y2="289.51" stroke="#333" stroke-width="0.8"/>
<text transform="translate(83.0,291.66) scale(1,1.14)" font-size="6.2" fill="#4d4d4d" text-anchor="end" stroke="#4d4d4d" stroke-width="0.2">movement</text>
<line x1="83.9" y1="294.72" x2="86.1" y2="294.72" stroke="#333" stroke-width="0.8"/>
<text transform="translate(83.0,296.87) scale(1,1.14)" font-size="6.2" fill="#4d4d4d" text-anchor="end" stroke="#4d4d4d" stroke-width="0.2">husbandry</text>
<line x1="83.9" y1="299.93" x2="86.1" y2="299.93" stroke="#333" stroke-width="0.8"/>
<text transform="translate(83.0,302.08) scale(1,1.14)" font-size="6.2" fill="#4d4d4d" text-anchor="end" stroke="#4d4d4d" stroke-width="0.2">biosecurity</text>
<line x1="83.9" y1="305.14" x2="86.1" y2="305.14" stroke="#333" stroke-width="0.8"/>
<text transform="translate(83.0,307.29) scale(1,1.14)" font-size="6.2" fill="#4d4d4d" text-anchor="end" stroke="#4d4d4d" stroke-width="0.2">surveillance</text>
<line x1="83.9" y1="310.35" x2="86.1" y2="310.35" stroke="#333" stroke-width="0.8"/>
<text transform="translate(83.0,312.50) scale(1,1.14)" font-size="6.2" fill="#4d4d4d" text-anchor="end" stroke="#4d4d4d" stroke-width="0.2">society</text>
<line x1="83.9" y1="315.56" x2="86.1" y2="315.56" stroke="#333" stroke-width="0.8"/>
<text transform="translate(83.0,317.71) scale(1,1.14)" font-size="6.2" fill="#4d4d4d" text-anchor="end" stroke="#4d4d4d" stroke-width="0.2">asfv</text>
<line x1="83.9" y1="320.77" x2="86.1" y2="320.77" stroke="#333" stroke-width="0.8"/>
<text transform="translate(83.0,322.92) scale(1,1.14)" font-size="6.2" fill="#4d4d4d" text-anchor="end" stroke="#4d4d4d" stroke-width="0.2">disease control</text>
<line x1="83.9" y1="325.98" x2="86.1" y2="325.98" stroke="#333" stroke-width="0.8"/>
<text transform="translate(83.0,328.13) scale(1,1.14)" font-size="6.2" fill="#4d4d4d" text-anchor="end" stroke="#4d4d4d" stroke-width="0.2">pig</text>
<line x1="83.9" y1="331.19" x2="86.1" y2="331.19" stroke="#333" stroke-width="0.8"/>
<text transform="translate(83.0,333.34) scale(1,1.14)" font-size="6.2" fill="#4d4d4d" text-anchor="end" stroke="#4d4d4d" stroke-width="0.2">wildlife management</text>
<line x1="83.9" y1="336.40" x2="86.1" y2="336.40" stroke="#333" stroke-width="0.8"/>
<text transform="translate(83.0,338.55) scale(1,1.14)" font-size="6.2" fill="#4d4d4d" text-anchor="end" stroke="#4d4d4d" stroke-width="0.2">network</text>
<line x1="83.9" y1="341.61" x2="86.1" y2="341.61" stroke="#333" stroke-width="0.8"/>
<text transform="translate(83.0,343.76) scale(1,1.14)" font-size="6.2" fill="#4d4d4d" text-anchor="end" stroke="#4d4d4d" stroke-width="0.2">vaccination status</text>
<text transform="translate(23.5,313.3) rotate(-90)" font-size="7.4" fill="#000" text-anchor="middle" stroke="#000" stroke-width="0.2">Risk categories</text>
<text x="314.0" y="361.5" font-size="7.4" fill="#000" text-anchor="middle" stroke="#000" stroke-width="0.2">% in time segment</text>
</svg></body></html>
